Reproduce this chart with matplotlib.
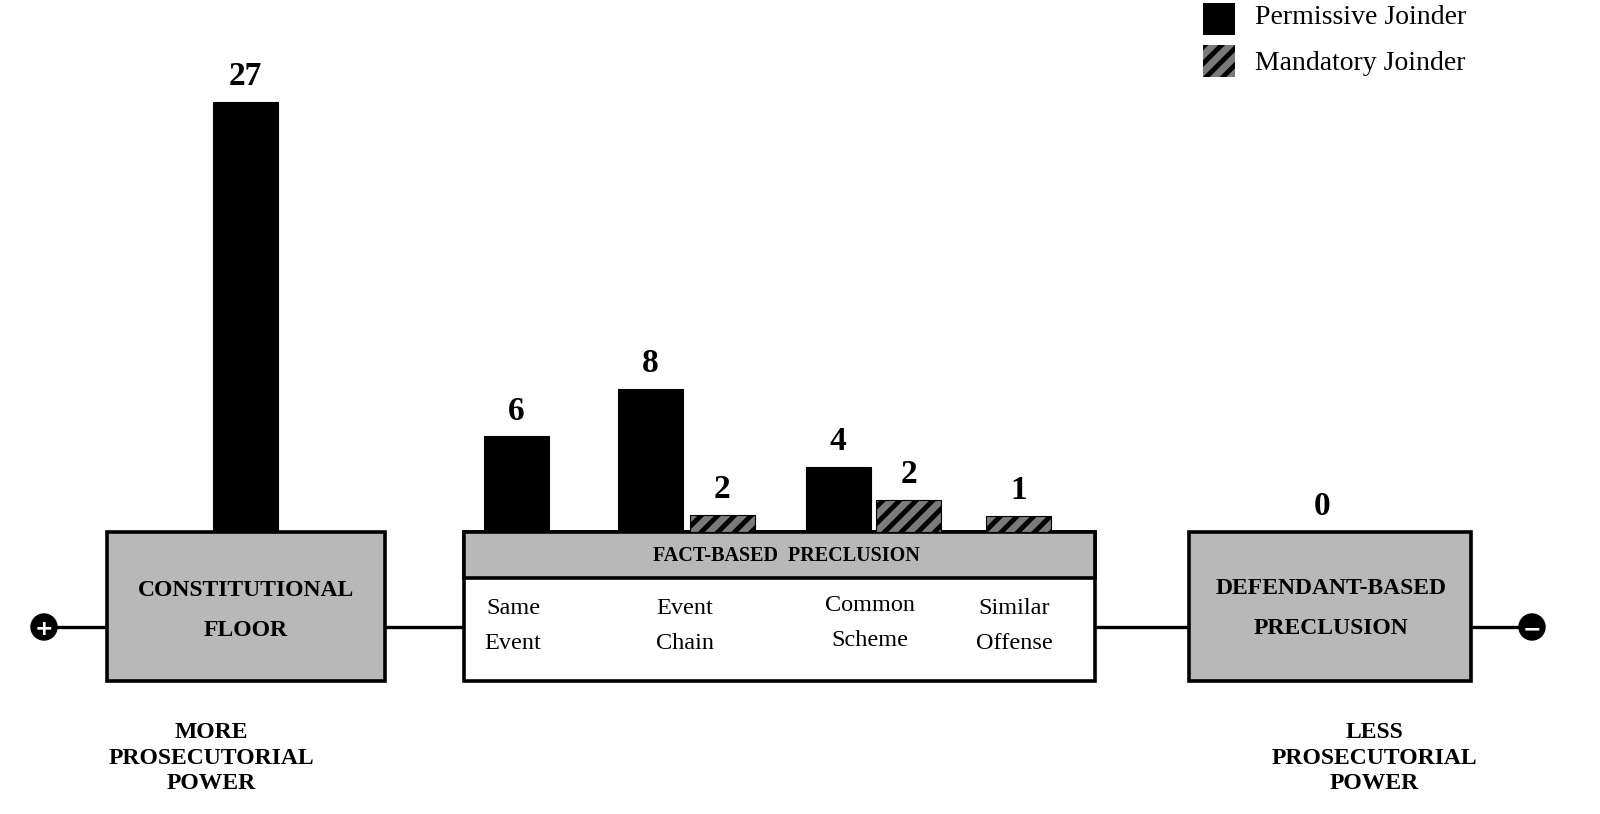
import matplotlib
matplotlib.use("Agg")
import matplotlib.pyplot as plt
from matplotlib.patches import Rectangle, Circle

plt.rcParams['font.family'] = ['Liberation Serif', 'DejaVu Serif']
plt.rcParams['hatch.linewidth'] = 3.5

# data
# counts printed above the bars
perm_labels = ['27', '6', '8', '4']
mand_labels = ['2', '2', '1']
zero_label = '0'
# bar heights as drawn in the figure (count units)
perm_heights = [27, 6, 9, 4.08]
mand_heights = [1.07, 2.0, 1.0]
# where the bars sit along the diagram (pixel x)
perm_x = [245.5, 516.5, 650.5, 838]
mand_x = [722, 908.5, 1018.5]
zero_x = 1322

fact_labels = ['Same\nEvent', 'Event\nChain', 'Common\nScheme', 'Similar\nOffense']
fact_label_x = [513, 685, 870, 1014]
fact_label_y = [626, 626, 623, 626]

W, H = 1600, 814
fig = plt.figure(figsize=(16, 8.14), dpi=100)

# diagram axes in pixel units
ax = fig.add_axes([0, 0, 1, 1])
ax.set_xlim(0, W)
ax.set_ylim(H, 0)
ax.axis('off')

gray = '#b8b8b8'
lw = 2.6

# the spine line
ax.plot([44, 1532], [627, 627], color='black', lw=2.4, zorder=1)

# boxes
ax.add_patch(Rectangle((107, 532), 278, 149, facecolor=gray, edgecolor='black', lw=lw, zorder=2))
ax.add_patch(Rectangle((464, 532), 631, 149, facecolor='white', edgecolor='black', lw=lw, zorder=2))
ax.add_patch(Rectangle((464, 532), 631, 46, facecolor=gray, edgecolor='black', lw=lw, zorder=3))
ax.add_patch(Rectangle((1189, 532), 282, 149, facecolor=gray, edgecolor='black', lw=lw, zorder=2))

# end circles
for cx, sign in [(44, '+'), (1532, '\u2212')]:
    ax.add_patch(Circle((cx, 627), 13, facecolor='black', edgecolor='black', zorder=4))
    ax.text(cx, 627, sign, color='white', ha='center', va='center_baseline',
            fontsize=16, fontweight='bold', family='DejaVu Sans', zorder=5)

bold = dict(fontweight='bold', ha='center', va='center', zorder=5)
ax.text(246, 591, 'CONSTITUTIONAL', fontsize=17, **bold)
ax.text(246, 630, 'FLOOR', fontsize=17, **bold)
ax.text(786, 556, 'FACT-BASED  PRECLUSION', fontsize=14.5, **bold)
ax.text(1331, 588, 'DEFENDANT-BASED', fontsize=17, **bold)
ax.text(1331, 628, 'PRECLUSION', fontsize=17, **bold)

for lab, x, y in zip(fact_labels, fact_label_x, fact_label_y):
    ax.text(x, y, lab, fontsize=17.5, ha='center', va='center', linespacing=1.85, zorder=5)

ax.text(211, 758, 'MORE\nPROSECUTORIAL\nPOWER', fontsize=17, linespacing=1.3, **bold)
ax.text(1374, 758, 'LESS\nPROSECUTORIAL\nPOWER', fontsize=17, linespacing=1.3, **bold)

# legend
ax.add_patch(Rectangle((1203, 3), 32, 32, facecolor='black', edgecolor='black', lw=0))
ax.add_patch(Rectangle((1203, 45), 32, 32, facecolor='#7a7a7a', edgecolor='black', lw=0, hatch='//'))
ax.text(1255, 18, 'Permissive Joinder', fontsize=20, ha='left', va='center')
ax.text(1255, 63, 'Mandatory Joinder', fontsize=20, ha='left', va='center')

# bar axes: x in pixels, y in counts, baseline at the box tops
px_per_unit = 15.93
base = 532
bx = fig.add_axes([0, (H - base) / H, 1, base / H])
bx.set_xlim(0, W)
bx.set_ylim(0, base / px_per_unit)
bx.axis('off')
bx.patch.set_alpha(0)

bx.bar(perm_x, perm_heights, width=65, color='black', edgecolor='black', lw=0.8)
bx.bar(mand_x, mand_heights, width=65, color='#7a7a7a', edgecolor='black', lw=0.8, hatch='//')

lab_kw = dict(xytext=(0, 7), textcoords='offset points', ha='center', va='bottom',
              fontsize=24, fontweight='bold')
for x, h, lab in zip(perm_x, perm_heights, perm_labels):
    bx.annotate(lab, (x, h), **lab_kw)
for x, h, lab in zip(mand_x, mand_heights, mand_labels):
    bx.annotate(lab, (x, h), **lab_kw)
bx.annotate(zero_label, (zero_x, 0), **lab_kw)

fig.savefig('out.png', dpi=100)
